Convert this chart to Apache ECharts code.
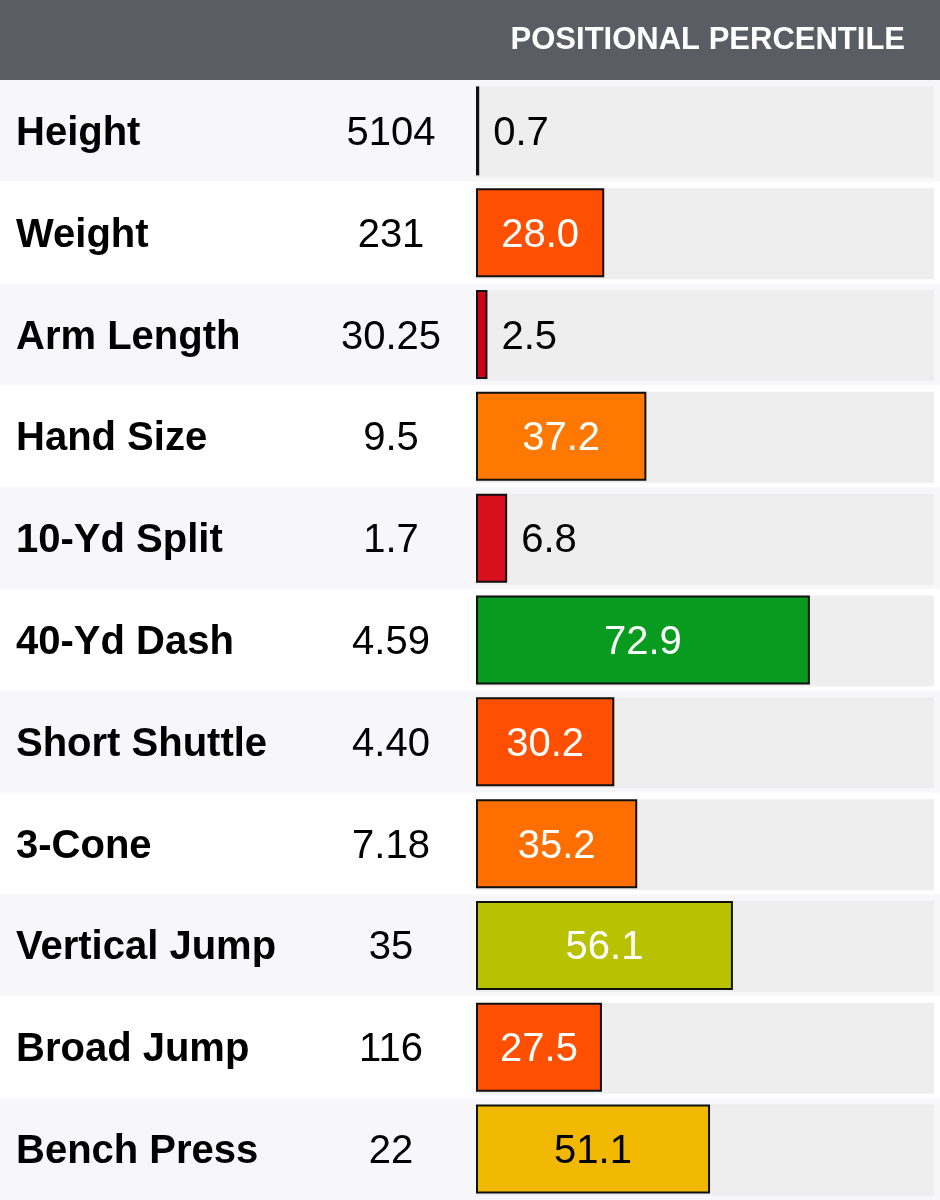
<!DOCTYPE html>
<html>
<head>
<meta charset="utf-8">
<script src="https://cdn.jsdelivr.net/npm/echarts@6/dist/echarts.min.js"></script>
<style>html,body{margin:0;padding:0;background:#fff}#main{width:940px;height:1200px}</style>
</head>
<body>
<div id="main"></div>
<script>
// drill data
var metrics = ['Height', 'Weight', 'Arm Length', 'Hand Size', '10-Yd Split', '40-Yd Dash',
    'Short Shuttle', '3-Cone', 'Vertical Jump', 'Broad Jump', 'Bench Press'];
var results = ['5104', '231', '30.25', '9.5', '1.7', '4.59', '4.40', '7.18', '35', '116', '22'];
var percentiles = [0.7, 28.0, 2.5, 37.2, 6.8, 72.9, 30.2, 35.2, 56.1, 27.5, 51.1];
var barColors = ['#000000', '#ff4f00', '#d0021b', '#ff7800', '#d8101e', '#079c1f',
    '#ff4f00', '#ff6f00', '#b8c200', '#ff4f00', '#f0b900'];

var font = 'Liberation Sans';

var barData = percentiles.map(function(v, i) {
    var small = v < 10;
    var darkText = small || barColors[i] === '#f0b900';
    return {
        value: v,
        itemStyle: { color: barColors[i] },
        label: {
            position: small ? 'right' : 'inside',
            distance: 14,
            color: darkText ? '#000' : '#fff'
        }
    };
});

var myChart = echarts.init(document.getElementById('main'));
var option = {
    animation: false,
    graphic: [
        { type: 'rect', left: 0, top: 0, shape: { width: 940, height: 80 }, style: { fill: '#5a5d63' } },
        { type: 'text', right: 35, top: 25, style: { text: 'POSITIONAL PERCENTILE', fill: '#fff',
            font: 'bold 31px "Liberation Sans"' } }
    ],
    grid: [
        { left: 0, right: 0, top: 80, bottom: 0 },
        { left: 476, right: 6, top: 80, bottom: 0 }
    ],
    xAxis: [
        { gridIndex: 0, type: 'value', min: 0, max: 940, show: false },
        { gridIndex: 1, type: 'value', min: 0, max: 100, show: false }
    ],
    yAxis: [
        { gridIndex: 0, type: 'category', data: metrics, inverse: true,
          axisLine: { show: false }, axisTick: { show: false }, axisLabel: { show: false },
          splitLine: { show: false },
          splitArea: { show: true, areaStyle: { color: ['#f7f7f9', '#ffffff'] } } },
        { gridIndex: 1, type: 'category', data: metrics, inverse: true, show: false }
    ],
    series: [
        { type: 'scatter', xAxisIndex: 0, yAxisIndex: 0, symbolSize: 0, silent: true,
          itemStyle: { color: '#000', opacity: 1 },
          data: metrics.map(function(m) { return 16; }),
          label: { show: true, position: 'right', distance: 0, offset: [0, 3],
            formatter: function(p) { return metrics[p.dataIndex]; },
            fontFamily: font, fontWeight: 'bold', fontSize: 40, color: '#000', opacity: 1 } },
        { type: 'scatter', xAxisIndex: 0, yAxisIndex: 0, symbolSize: 0, silent: true,
          itemStyle: { color: '#000', opacity: 1 },
          data: metrics.map(function(m) { return 391; }),
          label: { show: true, position: 'inside', offset: [0, 3],
            formatter: function(p) { return results[p.dataIndex]; },
            fontFamily: font, fontSize: 40, color: '#000', opacity: 1 } },
        { type: 'bar', xAxisIndex: 1, yAxisIndex: 1, barWidth: 91, barGap: '-100%', silent: true,
          data: percentiles.map(function() { return 100; }),
          itemStyle: { color: '#eeeeee' } },
        { type: 'bar', xAxisIndex: 1, yAxisIndex: 1, barWidth: 89, barGap: '-100%',
          data: barData,
          itemStyle: { borderColor: '#111', borderWidth: 2 },
          label: { show: true, fontFamily: font, fontSize: 40, offset: [0, 3],
            formatter: function(p) { return p.value.toFixed(1); } } }
    ]
};
myChart.setOption(option);
</script>
</body>
</html>
